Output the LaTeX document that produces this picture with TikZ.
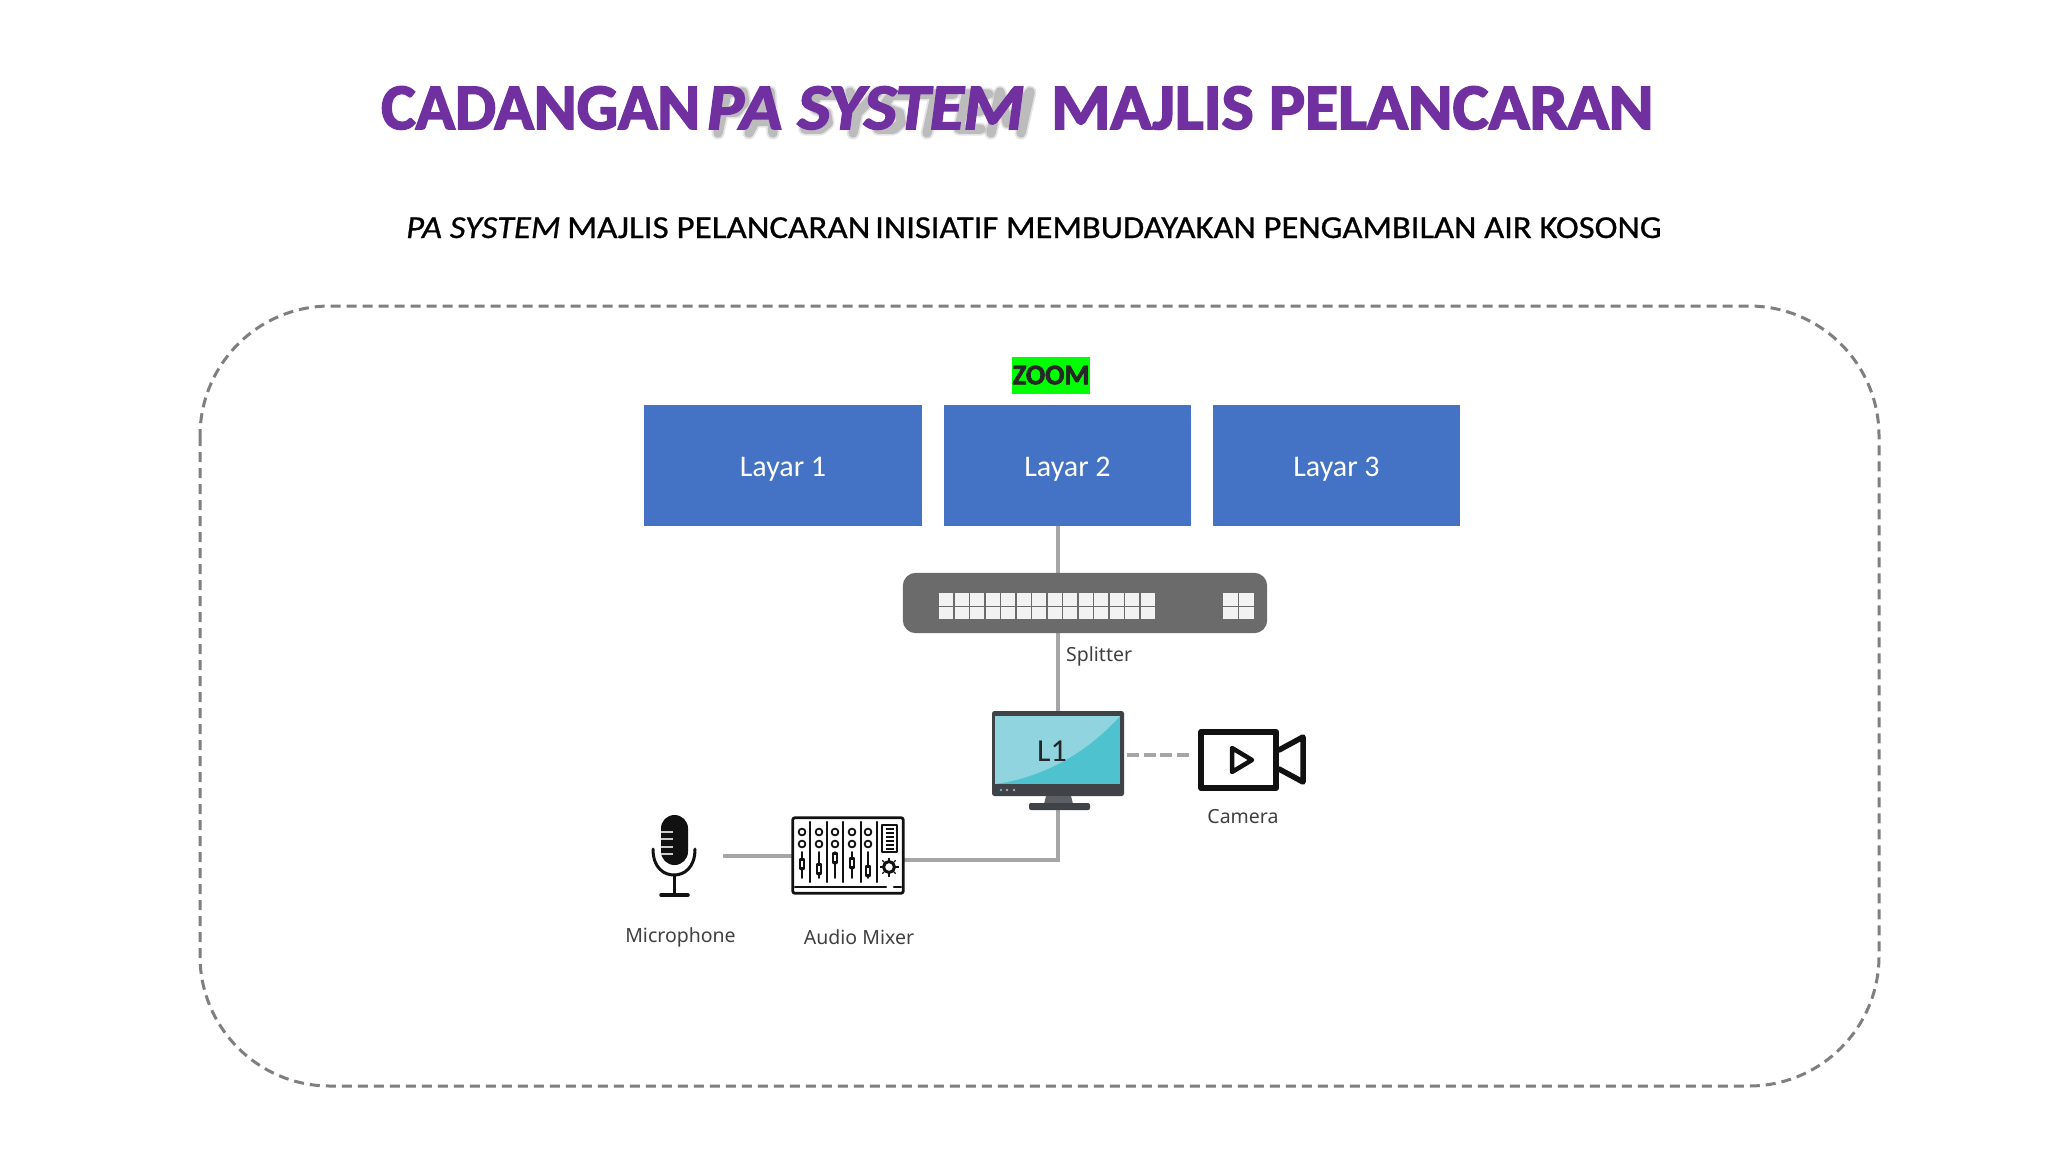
\documentclass[tikz,border=0pt]{standalone}
\usepackage{fontspec}
\setmainfont{Carlito}
\newfontfamily\labelfont{Noto Sans}
\newfontfamily\heavyfont{Carlito}[BoldFeatures={FakeBold=2.6},BoldItalicFeatures={FakeBold=2.6}]
\newfontfamily\semifont{Carlito}[FakeBold=0.7,ItalicFeatures={FakeBold=0.7}]
\usetikzlibrary{calc,positioning}
\definecolor{titlepurple}{HTML}{7030A0}
\definecolor{layarblue}{HTML}{4472C4}
\definecolor{wire}{HTML}{A6A6A6}
\definecolor{frameline}{HTML}{7F7F7F}
\definecolor{switchgrey}{HTML}{6B6B6B}
\definecolor{portwhite}{HTML}{F2F2F2}
\definecolor{monframe}{HTML}{3F4348}
\definecolor{screenlight}{HTML}{8FD4DF}
\definecolor{screendark}{HTML}{4EC2CF}
\definecolor{labelgrey}{HTML}{404040}
\definecolor{iconblack}{HTML}{111111}
\definecolor{shadowgrey}{HTML}{8C8C8C}
\newcommand{\px}[1]{\fontsize{#1}{#1}\selectfont}
\newcommand{\layarlabel}[1]{\raisebox{-11pt}[0pt][0pt]{#1}}
% a soft stroke for the shadow of one slanted letter: #1 = left foot, #2 = strokes
\newcommand{\shadowletter}[2]{%
  \begin{scope}[shift={(#1+7,133)},xslant=.22,line join=round,line cap=round]
    \draw[shadowgrey,opacity=.22,line width=13pt] #2;
    \draw[shadowgrey,opacity=.45,line width=9.5pt] #2;
  \end{scope}}
\tikzset{
  x=1pt,y=-1pt,
  layar/.style={fill=layarblue,draw=none,text=white,inner sep=0,font=\px{30}},
  wireline/.style={draw=wire,line width=4pt},
  devlabel/.style={text=labelgrey,inner sep=0,font=\labelfont\px{19.5}},
  titletext/.style={inner sep=0,anchor=base west,text=titlepurple,font=\heavyfont\bfseries\px{65}},
  subtext/.style={inner sep=0,anchor=base west,text=black,font=\semifont\px{32}},
  box/.style={inner sep=0,draw=none},
  iconline/.style={draw=iconblack,line join=round,line cap=round},
}
\begin{document}
\begin{tikzpicture}
\useasboundingbox (0,0) rectangle (2048,1152);
\fill[white] (0,0) rectangle (2048,1152);

% shadow of PA SYSTEM, drawn as strokes
\shadowletter{707}{(4,0) -- (4,-41) -- (20,-41) -- (24,-31) -- (18,-21) -- (4,-21)}
\shadowletter{740}{(2,0) -- (14,-41) -- (26,0) (8,-12) -- (22,-12)}
\shadowletter{795}{(26,-38) -- (8,-38) -- (4,-30) -- (8,-24) -- (20,-20) -- (24,-10) -- (18,-4) -- (2,-4)}
\shadowletter{832}{(2,-41) -- (14,-20) -- (30,-41) (14,-20) -- (14,0)}
\shadowletter{868}{(26,-38) -- (8,-38) -- (4,-30) -- (8,-24) -- (20,-20) -- (24,-10) -- (18,-4) -- (2,-4)}
\shadowletter{912}{(-10,-39) -- (26,-39) (8,-39) -- (8,0)}
\shadowletter{947}{(26,-39) -- (4,-39) -- (4,-4) -- (26,-4) (4,-22) -- (22,-22)}
\shadowletter{980}{(4,0) -- (4,-41) -- (18,-10) -- (34,-41) -- (34,0)}

% title
\node[titletext] (t1) at (381,129) {CADANGAN};
\node[titletext,font=\heavyfont\bfseries\itshape\px{65},xscale=1.066] (t2) at (707,129) {PA SYSTEM};
\node[titletext,xscale=1.043] (t3) at (1051,129) {MAJLIS PELANCARAN};

% subtitle
\node[subtext,font=\semifont\itshape\px{32},xscale=1.083] (s1) at (406,238) {PA SYSTEM};
\node[subtext,xscale=1.095] (s2) at (567,238) {MAJLIS PELANCARAN};
\node[subtext,xscale=1.08] (s3) at (875,238) {INISIATIF MEMBUDAYAKAN PENGAMBILAN AIR KOSONG};

% frame
\draw[frameline,line width=3pt,dash pattern=on 10pt off 6pt,rounded corners=130pt]
  (200,306) rectangle (1879,1086);

% zoom tag
\node[box,fill=green,minimum width=78pt,minimum height=37pt,text=black!85,font=\heavyfont\bfseries\px{28.5}] (zoom) at (1051,375) {ZOOM};

% screens
\node[layar,minimum width=278pt,minimum height=121pt] (layar1) at (783,465.5) {\layarlabel{Layar 1}};
\node[layar,minimum width=247pt,minimum height=121pt] (layar2) at (1067.5,465.5) {\layarlabel{Layar 2}};
\node[layar,minimum width=247pt,minimum height=121pt] (layar3) at (1336.5,465.5) {\layarlabel{Layar 3}};

% anchors of icons
\node[box,minimum width=132pt,minimum height=99pt] (monitor) at (1058,760.5) {};
\node[box,minimum width=364pt,minimum height=60pt] (splitter) at (1085,603) {};
\node[box,minimum width=105pt,minimum height=62pt] (camera) at (1250.5,760) {};
\node[box,minimum width=110pt,minimum height=75pt] (mixer) at (848,855.5) {};
\node[box,minimum width=42pt,minimum height=82pt] (mic) at (674,856) {};
\coordinate (mixerout) at (903,860);
\coordinate (micout) at (723,856);
\coordinate (mixerin) at (793,856);
\coordinate (monout) at (1127,755);
\coordinate (camin) at (1191,755);

% connectors
\draw[wireline] (layar2.south -| monitor.north) -- (monitor.north);
\draw[wireline] (monitor.south) |- (mixerout);
\draw[wireline] (micout) -- (mixerin);
\draw[wireline,dash pattern=on 12pt off 4.5pt] (monout) -- (camin);

% splitter
\fill[switchgrey,rounded corners=13pt] (splitter.south west) rectangle (splitter.north east);
\foreach \i in {0,...,13} \foreach \j in {0,1}
  \fill[portwhite] ({939+\i*15.5},{593+\j*13.5}) rectangle ++(14,12.5);
\foreach \i in {0,1} \foreach \j in {0,1}
  \fill[portwhite] ({1223+\i*16},{593+\j*13.5}) rectangle ++(14.5,12.5);
\node[devlabel,anchor=west] (splitterlabel) at (1066,656) {Splitter};

% monitor
\fill[monframe,rounded corners=2.5pt] (992,711) rectangle (1124,796);
\fill[screendark] (995,716) rectangle (1120,784);
\fill[screenlight] (995,716) -- (1120,716) .. controls (1085,755) and (1040,778) .. (995,784) -- cycle;
\fill[monframe!85] (1046,796) -- (1071,796) -- (1073,804) -- (1044,804) -- cycle;
\fill[monframe,rounded corners=2pt] (1029,803) rectangle (1090,810);
\foreach \x/\c in {1001/screendark,1007/portwhite!70!black,1014/portwhite!70!black}
  \fill[\c] (\x,790) circle (1.4);
\node[inner sep=0,text=black!85,font=\px{32}] (l1) at (1052,751) {L1};

% camera
\draw[iconline,line width=6pt] (1201,732) rectangle (1276,788);
\draw[iconline,line width=5.5pt] (1279,750) -- (1303,737) -- (1303,782) -- (1279,769);
\draw[iconline,line width=4.5pt] (1232,748) -- (1252,760) -- (1232,772) -- cycle;
\node[devlabel] (cameralabel) at (1243,817) {Camera};

% microphone
\fill[iconblack,rounded corners=13.4pt] (661,815) rectangle (688,865);
\foreach \y in {832,839,847,854}
  \draw[white!80!black,line width=1.5pt] (661,\y) -- (673,\y);
\draw[iconline,line width=3pt] (653,849) .. controls (653,868) and (664,875) .. (674,875)
  .. controls (684,875) and (695,868) .. (695,849);
\draw[iconline,line width=3pt] (674,875) -- (674,895);
\draw[iconline,line width=3.5pt] (661,895) -- (688,895);
\node[devlabel] (miclabel) at (680.5,937) {Microphone};

% mixer
\draw[iconline,line width=2.8pt,rounded corners=2pt] (mixer.south west) rectangle (mixer.north east);
\foreach \x in {810,827,843,861,877}
  \draw[iconline,line width=2.3pt] (\x,822) -- (\x,882);
\foreach \x/\f in {802/864,819/869,835/858,852/863,868/871}{
  \draw[iconline,line width=1.8pt] (\x,832) circle (3.4);
  \draw[iconline,line width=1.8pt] (\x,844) circle (3.4);
  \draw[iconline,line width=1.8pt] (\x,852) -- (\x,878);
  \fill[iconblack,rounded corners=1pt] (\x-2.8,\f-6) rectangle (\x+2.8,\f+6);
  \fill[white] (\x-1,\f-3) rectangle (\x+1,\f+3);
}
\draw[iconline,line width=2.3pt] (882,825) rectangle (897,852);
\foreach \y in {829,833,837,841,845,849}
  \draw[iconblack,line width=2pt] (885.5,\y) -- (893.5,\y);
\draw[iconline,line width=3pt] (889,867) circle (5.5);
\foreach \a in {0,45,...,315}
  \draw[iconblack,line width=1.2pt] ($(889,867)+(\a:7)$) -- ($(889,867)+(\a:9.5)$);
\draw[iconline,line width=2.3pt] (795,887) -- (886,887);
\draw[iconline,line width=2.3pt] (894,887) -- (901,887);
\node[devlabel] (mixerlabel) at (859,937) {Audio Mixer};
\end{tikzpicture}
\end{document}
